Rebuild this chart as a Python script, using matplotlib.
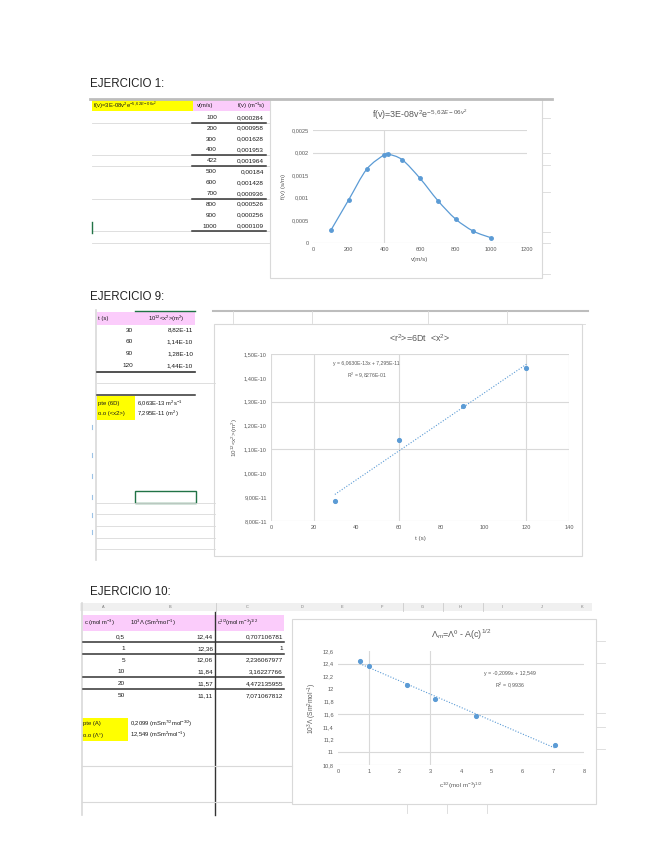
import numpy as np
import matplotlib.pyplot as plt
from matplotlib.patches import Rectangle, PathPatch
from matplotlib.path import Path
from matplotlib.lines import Line2D

plt.rcParams['font.family'] = ['Liberation Sans', 'DejaVu Sans']
plt.rcParams['mathtext.fontset'] = 'custom'
plt.rcParams['mathtext.rm'] = 'Liberation Sans'
plt.rcParams['mathtext.it'] = 'Liberation Sans:italic'

# --- datos ejercicio 1 ---
v = [100, 200, 300, 400, 422, 500, 600, 700, 800, 900, 1000]
fv = [0.000284, 0.000958, 0.001628, 0.001953, 0.001964, 0.00184,
      0.001428, 0.000936, 0.000526, 0.000256, 0.000109]

# --- datos ejercicio 9 ---
t = [30, 60, 90, 120]
x2 = [8.82e-11, 1.14e-10, 1.28e-10, 1.44e-10]
pend9, oo9 = 6.063e-13, 7.295e-11

# --- datos ejercicio 10 ---
c = ['0,5', '1', '5', '10', '20', '50']
lam = [12.44, 12.36, 12.06, 11.84, 11.57, 11.11]
raiz_c = [0.707106781, 1, 2.236067977, 3.16227766, 4.472135955, 7.071067812]
pend10, oo10 = -0.2099, 12.549

W, H = 655, 848
AZUL = '#5B9BD5'
GRIS = '#d9d9d9'
TXT = '#595959'
ROSA = '#fbccfb'
AMAR = '#ffff00'
OSC = '#333333'

fig = plt.figure(figsize=(W / 100, H / 100), dpi=100)


def fx(x):
    return x / W


def fy(y):
    return 1 - y / H


def txt(x, y, s, size=4.6, ha='left', color='#1a1a1a', **kw):
    fig.text(fx(x), fy(y), s, fontsize=size, ha=ha, va='center', color=color, **kw)


def hline(y, x0, x1, color=GRIS, lw=0.8):
    fig.add_artist(Line2D([fx(x0), fx(x1)], [fy(y), fy(y)], color=color, lw=lw))


def vline(x, y0, y1, color=GRIS, lw=0.8):
    fig.add_artist(Line2D([fx(x), fx(x)], [fy(y0), fy(y1)], color=color, lw=lw))


def box(x0, y0, x1, y1, fc, ec='none', lw=0.8):
    fig.add_artist(Rectangle((fx(x0), fy(y1)), fx(x1) - fx(x0), fy(y0) - fy(y1),
                             facecolor=fc, edgecolor=ec, lw=lw))


def ejes(x0, y0, x1, y1):
    ax = fig.add_axes([fx(x0), fy(y1), fx(x1) - fx(x0), fy(y0) - fy(y1)])
    ax.set_zorder(5)
    ax.set_facecolor('none')
    for s in ax.spines.values():
        s.set_visible(False)
    ax.tick_params(length=0, pad=3, labelsize=4.1, labelcolor=TXT)
    return ax


def coma(s):
    return s.replace('.', ',')


# ================= EJERCICIO 1 =================
txt(90, 84, 'EJERCICIO 1:', size=8.3, color='#222222')
hline(98.5, 90, 552, color='#bdbdbd', lw=2)

box(92, 100, 193, 111, AMAR)
box(193, 100, 270, 111, ROSA)
txt(93, 105.5, 'f(v)=3E-08v$^2$e$^{-5,62E-06v^2}$', size=4.2)
txt(197, 105.5, 'v(m/s)', size=4.2)
txt(265, 105.5, 'f(v) (m$^{-1}$s)', size=4.2, ha='right')

filas1 = 117.3 + 10.87 * np.arange(len(v))
for yy, vi, fi in zip(filas1, v, fv):
    txt(217, yy, str(vi), ha='right')
    txt(264, yy, coma(f'{fi:.6f}'.rstrip('0')), ha='right')
for i in [0, 3, 4, 7, 10]:
    hline(filas1[i] + 5.2, 92, 270, color=GRIS, lw=0.6)
    hline(filas1[i] + 5.2, 192, 266, color=OSC, lw=1.1)
hline(243, 92, 270, color=GRIS, lw=0.6)
vline(92, 222, 233, color='#217346', lw=1)

# grafico 1
box(270, 99, 542, 278, 'white', ec=GRIS, lw=0.8)
for yy in [118, 153, 165, 192, 232, 243, 274]:
    hline(yy, 542, 550, color=GRIS, lw=0.6)
ax1 = ejes(313.3, 130, 526.7, 242.7)
ax1.set_xlim(0, 1200)
ax1.set_ylim(0, 0.0025)
ax1.set_xticks(range(0, 1201, 200))
ax1.set_yticks([0, 0.0005, 0.001, 0.0015, 0.002, 0.0025])
ax1.set_yticklabels(['0', '0,0005', '0,001', '0,0015', '0,002', '0,0025'])
for yy in [0, 0.002, 0.0025]:
    ax1.axhline(yy, color=GRIS, lw=0.8, zorder=0)
ax1.axvline(400, color=GRIS, lw=0.8, zorder=0)
# linea suavizada (bezier tipo Excel)
pts = np.column_stack([v, fv]).astype(float)
ext = np.vstack([pts[0], pts, pts[-1]])
verts = [pts[0]]
codes = [Path.MOVETO]
for i in range(1, len(ext) - 2):
    p0, p1, p2, p3 = ext[i - 1], ext[i], ext[i + 1], ext[i + 2]
    verts += [p1 + (p2 - p0) / 6, p2 - (p3 - p1) / 6, p2]
    codes += [Path.CURVE4] * 3
ax1.add_patch(PathPatch(Path(verts, codes), facecolor='none', edgecolor=AZUL, lw=0.9))
ax1.plot(v, fv, 'o', color=AZUL, ms=2.5)
ax1.set_title('f(v)=3E-08v$^2$e$^{-5,62E-06v^2}$', fontsize=6.4, color=TXT, pad=8)
ax1.set_xlabel('v(m/s)', fontsize=4.5, color=TXT, labelpad=4)
ax1.set_ylabel('f(v) (s/m)', fontsize=4.5, color=TXT, labelpad=4)

# ================= EJERCICIO 9 =================
txt(90, 297, 'EJERCICIO 9:', size=8.3, color='#222222')
hline(310.5, 213, 588, color='#bdbdbd', lw=1.5)
hline(323.5, 216, 585, color=GRIS, lw=0.6)
for xx in [233, 312, 428, 507]:
    vline(xx, 311, 323, color=GRIS, lw=0.6)
vline(95.5, 310, 560, color=GRIS, lw=1.2)
hline(310.5, 135, 195, color='#217346', lw=1)

box(97, 312, 195, 325, ROSA)
txt(98, 318.5, 't (s)', size=4.2)
txt(166, 318.5, '10$^{12}$<x$^2$>(m$^2$)', size=4.2, ha='center')
filas9 = 330 + 11.9 * np.arange(len(t))
for yy, ti, xi in zip(filas9, t, x2):
    txt(133, yy, str(ti), ha='right')
    txt(193, yy, coma(f'{xi:.2E}'), ha='right')
hline(371.5, 97, 195, color=OSC, lw=1.2)
hline(383, 97, 215, color=GRIS, lw=0.6)
hline(394.5, 97, 195, color=OSC, lw=1.1)
box(97, 396, 135, 420, AMAR)
txt(98, 403, 'pte (6D)', size=4.2)
txt(98, 414, 'o.o (<x2>)', size=4.2)
txt(137, 403, coma(f'{pend9:.3E}') + ' m$^2$s$^{-1}$', size=4.2)
txt(137, 414, coma(f'{oo9:.3E}') + ' (m$^2$)', size=4.2)
for yy in [502.5, 514, 526, 538, 549]:
    hline(yy, 96, 215, color=GRIS, lw=0.6)
box(134.5, 491, 196, 503, 'none', ec='#217346', lw=1)
for yy in [427, 455, 476, 497, 515, 532]:
    vline(92, yy - 2, yy + 2, color='#9dc3e6', lw=0.8)

# grafico 9
box(214, 324, 582, 556, 'white', ec=GRIS, lw=0.8)
ax9 = ejes(271, 354, 569, 521)
ax9.set_xlim(0, 140)
ax9.set_ylim(8e-11, 1.5e-10)
ax9.set_xticks(range(0, 141, 20))
yt9 = [8e-11, 9e-11, 1e-10, 1.1e-10, 1.2e-10, 1.3e-10, 1.4e-10, 1.5e-10]
ax9.set_yticks(yt9)
ax9.set_yticklabels([coma(f'{y:.2E}') for y in yt9])
for yy in [8e-11, 1.1e-10, 1.3e-10, 1.5e-10]:
    ax9.axhline(yy, color=GRIS, lw=0.8, zorder=0)
for xx in [0, 20, 60, 120, 140]:
    ax9.axvline(xx, color=GRIS, lw=0.8, zorder=0)
tt = np.array([t[0], t[-1]])
ax9.plot(tt, pend9 * tt + oo9, color=AZUL, lw=0.8, ls=(0, (1, 1.5)))
ax9.plot(t, x2, 'o', color=AZUL, ms=2.7)
ax9.text(45, 1.43e-10, 'y = ' + coma(f'{pend9:.4E}') + 'x + ' + coma(f'{oo9:.3E}')
         + '\nR$^2$ = 9,8276E-01', fontsize=3.7, color=TXT, ha='center', va='center',
         linespacing=1.6)
ax9.set_title('<r$^2$>=6Dt  <x$^2$>', fontsize=6.4, color=TXT, pad=9)
ax9.set_xlabel('t (s)', fontsize=4.5, color=TXT, labelpad=4)
ax9.set_ylabel('10$^{12}$<x$^2$>(m$^2$)', fontsize=4.5, color=TXT, labelpad=3)

# ================= EJERCICIO 10 =================
txt(90, 592, 'EJERCICIO 10:', size=8.3, color='#222222')
box(80, 603, 592, 611, '#f0f0f0')
for xx, letra in zip([103, 170, 247, 302, 342, 382, 422, 460, 502, 542, 582], 'ABCDEFGHIJK'):
    txt(xx, 607, letra, size=2.8, ha='center', color='#777777')
for xx in [216, 403, 443, 483]:
    vline(xx, 603, 611, color='#cccccc', lw=0.6)
vline(81.5, 603, 815, color=GRIS, lw=1.2)

box(83, 615, 284, 631, ROSA)
txt(84, 623, 'c (mol m$^{-3}$)', size=4.2)
txt(130, 623, '10$^3$Λ (Sm$^2$mol$^{-1}$)', size=4.2)
txt(217, 623, 'c$^{1/2}$(mol m$^{-3}$)$^{1/2}$', size=4.2)
filas10 = 636.5 + 11.8 * np.arange(len(c))
for yy, ci, li, ri in zip(filas10, c, lam, raiz_c):
    txt(125, yy, ci, ha='right')
    txt(213, yy, coma(f'{li:.2f}'), ha='right')
    txt(283, yy, coma(f'{ri:.10g}'), ha='right')
for i in [0, 1, 3, 4]:
    hline(filas10[i] + 5.5, 83, 284, color=OSC, lw=1.1)
vline(215, 612, 815, color=OSC, lw=1)
box(82, 718, 128, 741, AMAR)
txt(83, 724, 'pte (A)', size=4.2)
txt(83, 735, 'o.o (Λ°)', size=4.2)
txt(130, 724, coma(f'{-pend10:.4f}') + ' (mSm$^{7/2}$mol$^{-3/2}$)', size=4.2)
txt(130, 735, coma(f'{oo10:.3f}') + ' (mSm$^2$mol$^{-1}$)', size=4.2)
for yy in [766, 802]:
    hline(yy, 82, 292, color=GRIS, lw=0.8)

# grafico 10
box(292, 619, 596, 804, 'white', ec=GRIS, lw=0.8)
for xx in [407, 447, 487]:
    vline(xx, 804, 813, color=GRIS, lw=0.6)
for yy in [641, 663, 713, 727, 749]:
    hline(yy, 596, 605, color=GRIS, lw=0.6)
ax10 = ejes(338, 651, 584, 765)
ax10.set_xlim(0, 8)
ax10.set_ylim(10.8, 12.6)
ax10.set_xticks(range(0, 9))
yt10 = np.arange(10.8, 12.61, 0.2)
ax10.set_yticks(yt10)
ax10.set_yticklabels([coma(f'{y:.1f}').replace(',0', '') for y in yt10])
for yy in [10.8, 11.0, 11.6, 12.4]:
    ax10.axhline(yy, color=GRIS, lw=0.8, zorder=0)
for xx in [1, 3]:
    ax10.axvline(xx, color=GRIS, lw=0.8, zorder=0)
rr = np.array([raiz_c[0], raiz_c[-1]])
ax10.plot(rr, pend10 * rr + oo10, color=AZUL, lw=0.8, ls=(0, (1, 1.5)))
ax10.plot(raiz_c, lam, 'o', color=AZUL, ms=2.7)
ax10.text(5.6, 12.14, 'y = ' + coma(f'{pend10:.4f}') + 'x + ' + coma(f'{oo10:.3f}')
          + '\nR$^2$ = 0,9936', fontsize=3.8, color=TXT, ha='center', va='center',
          linespacing=1.6)
ax10.set_title('Λ$_m$=Λº - A(c)$^{1/2}$', fontsize=6.4, color=TXT, pad=9)
ax10.set_xlabel('c$^{1/2}$(mol m$^{-3}$)$^{1/2}$', fontsize=4.5, color=TXT, labelpad=5)
ax10.set_ylabel('10$^3$Λ (Sm$^2$mol$^{-1}$)', fontsize=4.8, color=TXT, labelpad=3)

fig.savefig('out.png', dpi=100)
